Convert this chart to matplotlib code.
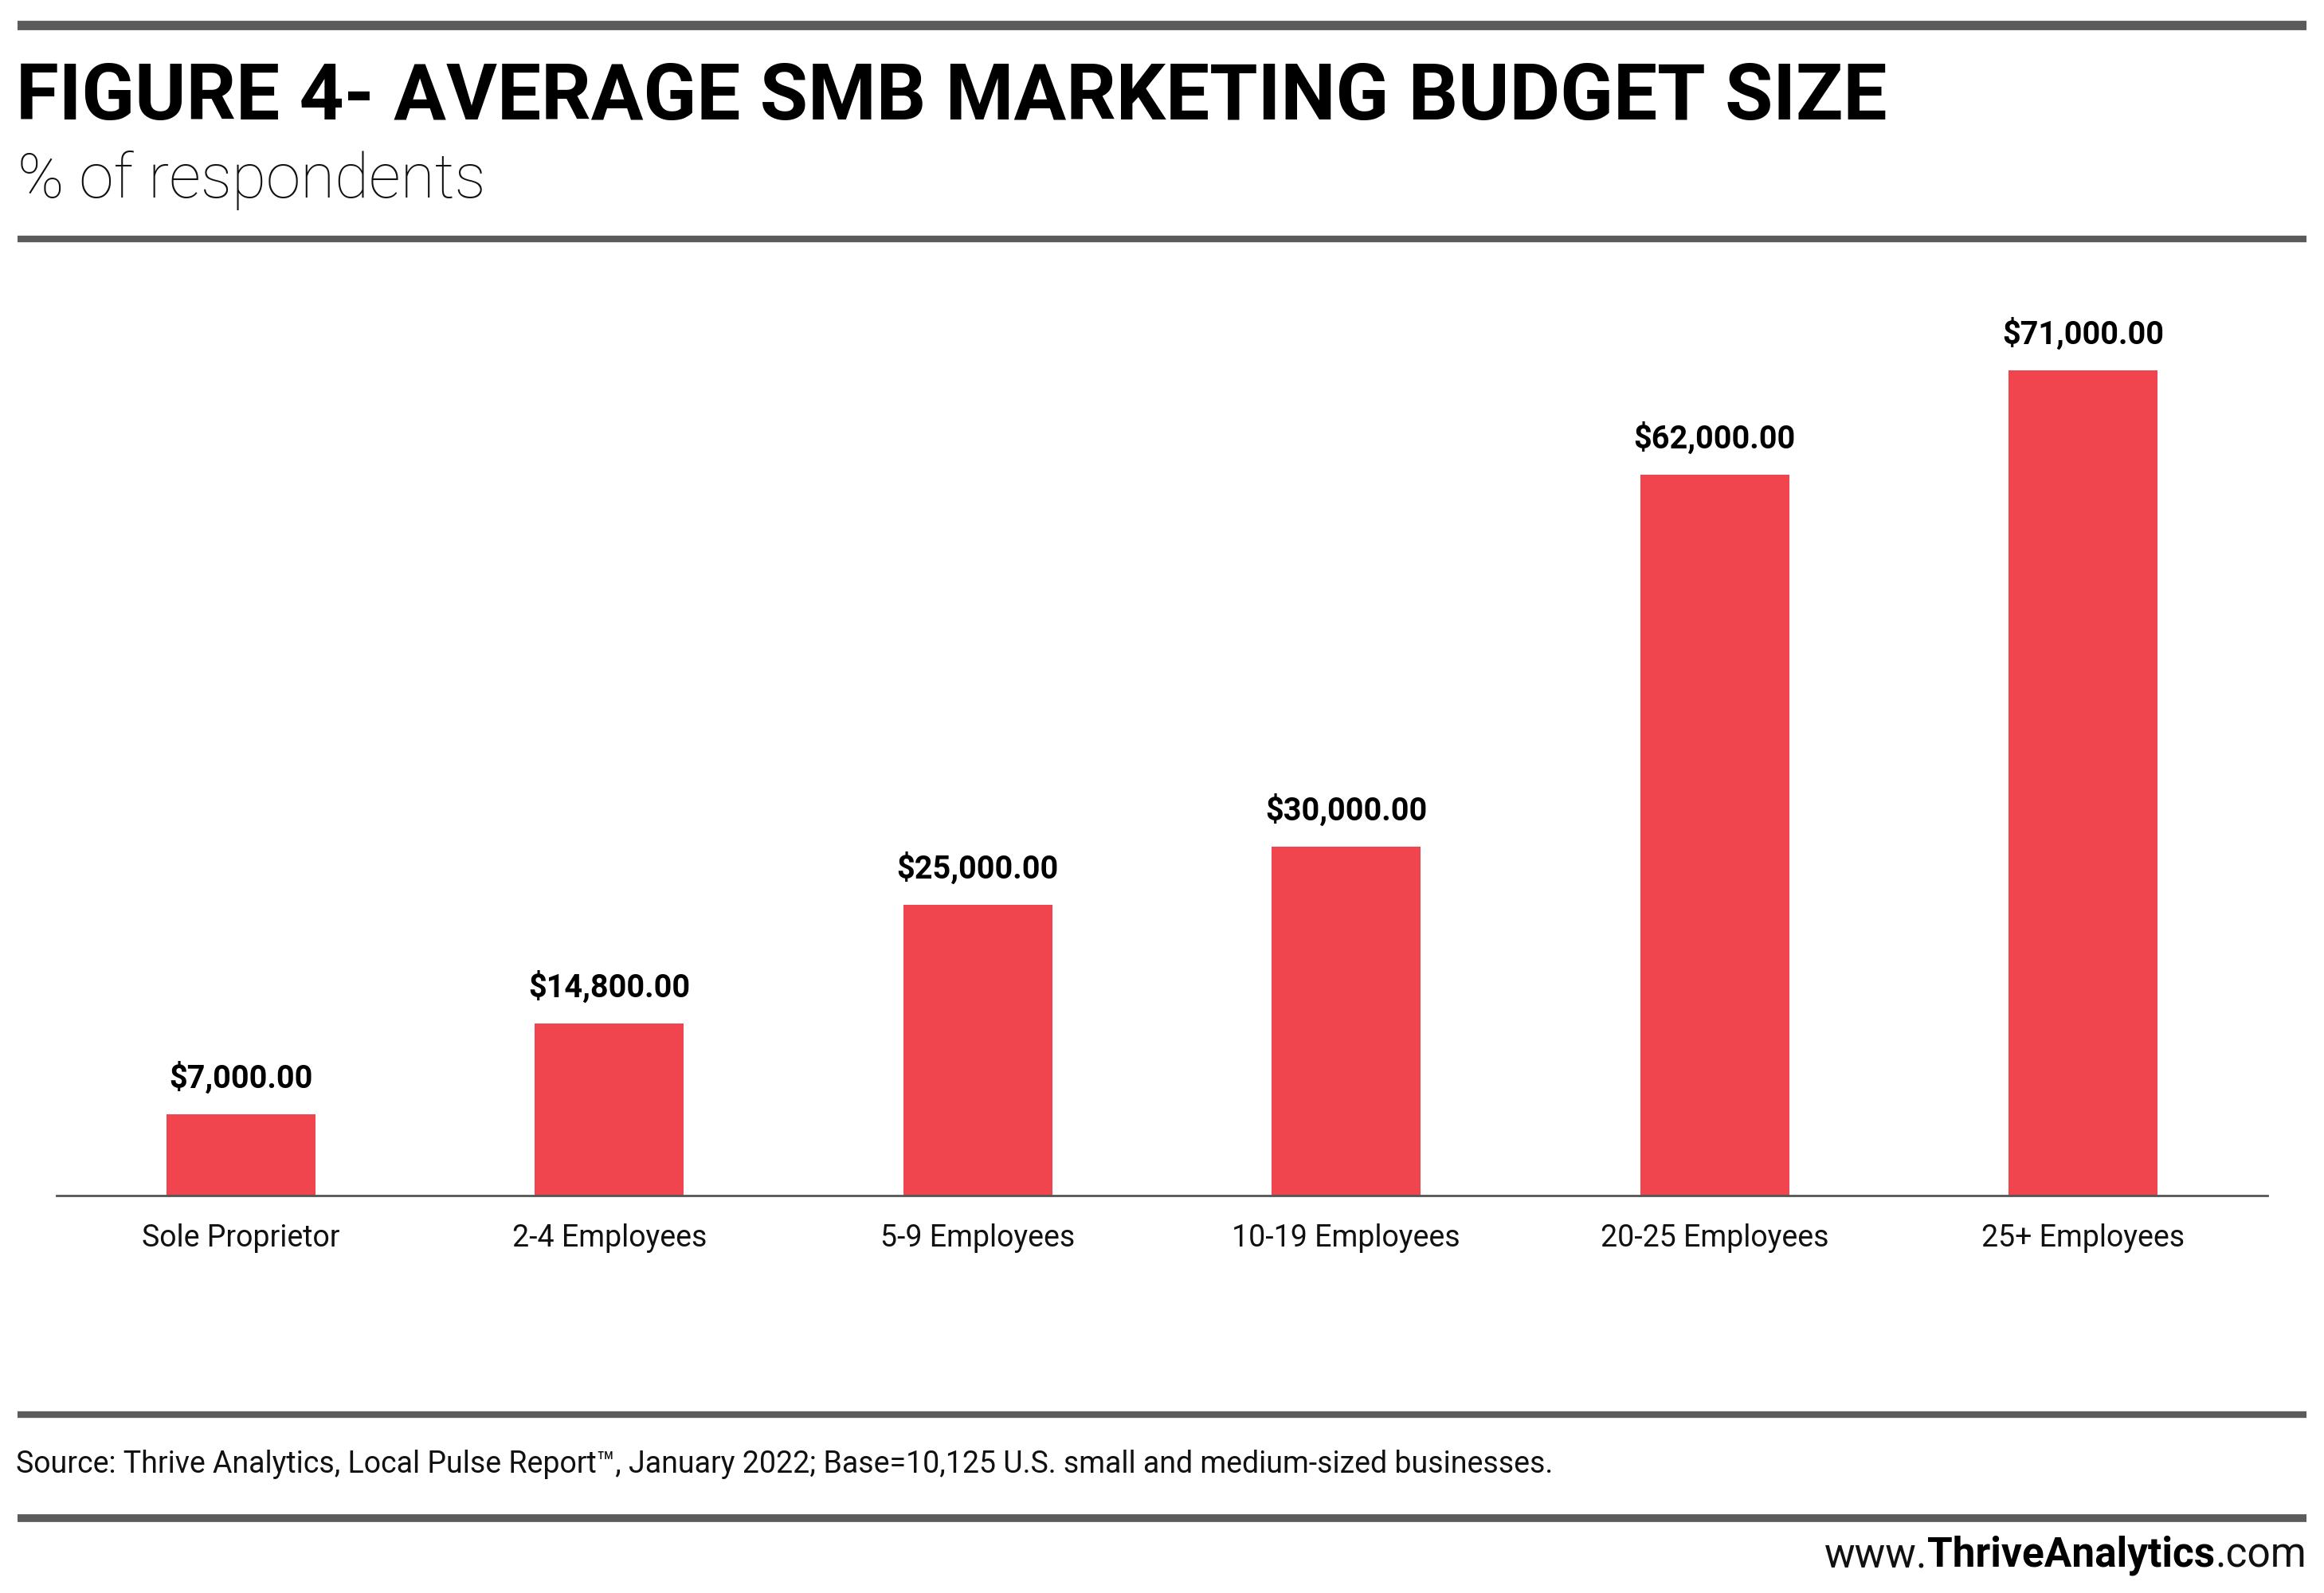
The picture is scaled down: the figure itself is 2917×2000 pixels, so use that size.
import numpy as np
import matplotlib
matplotlib.use("Agg")
import matplotlib.pyplot as plt
from matplotlib.lines import Line2D

categories = ["Sole Proprietor", "2-4 Employees", "5-9 Employees",
              "10-19 Employees", "20-25 Employees", "25+ Employees"]
budgets = [7000, 14800, 25000, 30000, 62000, 71000]

title = "FIGURE 4- AVERAGE SMB MARKETING BUDGET SIZE"
subtitle = "% of respondents"
source = "Source: Thrive Analytics, Local Pulse Report\u2122, January 2022; Base=10,125 U.S. small and medium-sized businesses."

BAR = "#F0444E"
RULE = "#5B5B5B"
FONT = ["Roboto", "DejaVu Sans"]

plt.rcParams['font.family'] = FONT

W, H = 2917, 2000
fig = plt.figure(figsize=(W / 100, H / 100), dpi=100)


def fx(px):
    return px / W


def fy(py):
    return 1 - py / H


# horizontal rules
for y, lw in [(32, 8.5), (300, 6), (1776, 6), (1906, 7)]:
    fig.add_artist(Line2D([fx(22), fx(2895)], [fy(y), fy(y)],
                          color=RULE, lw=lw, solid_capstyle='butt'))

fig.text(fx(20), fy(150), title, fontsize=70.5, fontweight='bold',
         color='black', ha='left', va='baseline')
fig.text(fx(22), fy(248), subtitle, fontsize=56.5, fontweight='light',
         color='#111111', ha='left', va='baseline')
fig.text(fx(20), fy(1849), source, fontsize=27, fontweight='normal',
         color='#111111', ha='left', va='baseline')

# www.ThriveAnalytics.com, right aligned
t3 = fig.text(fx(2895), fy(1967), ".com", fontsize=37, fontweight='normal',
              color='#111111', ha='right', va='baseline')
fig.canvas.draw()
r = fig.canvas.get_renderer()
x3 = t3.get_window_extent(r).x0
t2 = fig.text(x3 / W, fy(1967), "ThriveAnalytics", fontsize=37,
              fontweight='bold', color='black', ha='right', va='baseline')
x2 = t2.get_window_extent(r).x0
fig.text(x2 / W, fy(1967), "www.", fontsize=37, fontweight='normal',
         color='#111111', ha='right', va='baseline')

# chart
ax = fig.add_axes([fx(71), fy(1501), fx(2846) - fx(71), (1501 - 330) / H])
x = np.arange(len(categories))
bars = ax.bar(x, budgets, width=0.405, color=BAR)
ax.set_xlim(-0.5, len(categories) - 0.5)
ax.set_ylim(0, 80250)

for b, v in zip(bars, budgets):
    ax.annotate(f"${v:,.2f}", (b.get_x() + b.get_width() / 2, v),
                xytext=(0, 33), textcoords='offset points',
                ha='center', va='center', fontsize=28.5, fontweight='bold')

ax.set_xticks(x)
ax.set_xticklabels(categories, fontsize=27, fontweight='normal', color='#111111')
ax.tick_params(axis='x', length=0, pad=25)
ax.set_yticks([])
for s in ['top', 'left', 'right']:
    ax.spines[s].set_visible(False)
ax.spines['bottom'].set_color('#555555')
ax.spines['bottom'].set_linewidth(2)

fig.savefig("out.png", dpi=100)
